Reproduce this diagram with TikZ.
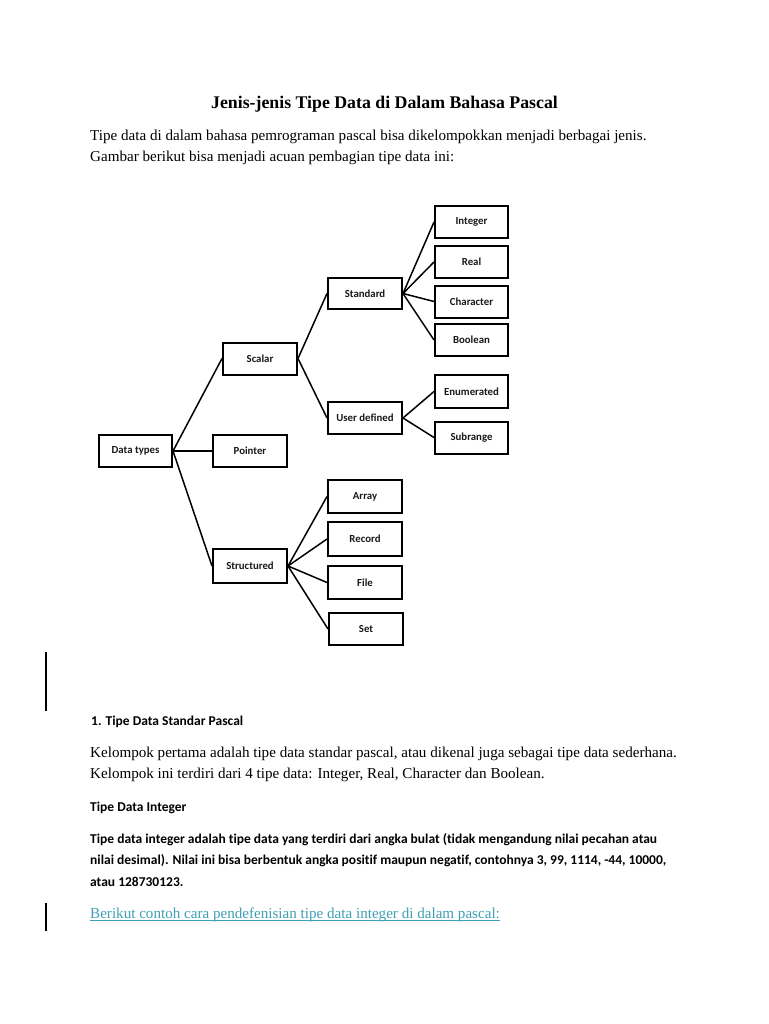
\documentclass[tikz,border=0pt]{standalone}
\usepackage{fontspec}
\setmainfont{Liberation Serif}
\newfontfamily\calfont[Ligatures={NoCommon}]{Carlito}
\definecolor{linkteal}{RGB}{62,160,180}
\definecolor{boxtext}{RGB}{25,25,25}
\begin{document}
\begin{tikzpicture}[x=1pt,y=-1pt,
  dbox/.style={draw=black,line width=2pt,minimum width=74pt,minimum height=32pt,inner sep=0pt,
    font=\calfont\bfseries\fontsize{10.8}{12}\selectfont,text=boxtext},
  conn/.style={draw=black,line width=1.5pt},
  bodytxt/.style={anchor=base west,inner sep=0pt,font=\fontsize{15.1}{18}\selectfont},
  caltxt/.style={anchor=base west,inner sep=0pt,font=\calfont\bfseries\fontsize{13.5}{16}\selectfont},
  cursorbar/.style={draw=black,line width=1.2pt}]
\useasboundingbox[fill=white] (0,0) rectangle (768,1024);

% title and intro
\node[anchor=base,inner sep=0pt,font=\bfseries\fontsize{17.8}{20}\selectfont] (title) at (384.5,109) {Jenis-jenis Tipe Data di Dalam Bahasa Pascal};
\node[bodytxt] (p1a) at (90,141) {Tipe data di dalam bahasa pemrograman pascal bisa dikelompokkan menjadi berbagai jenis.};
\node[bodytxt] (p1b) at (90,162) {Gambar berikut bisa menjadi acuan pembagian tipe data ini:};

% diagram boxes
\node[dbox,minimum width=73pt] (dt) at (135.5,451) {Data types};
\node[dbox] (scalar) at (260,358.5) {Scalar};
\node[dbox] (pointer) at (250,451) {Pointer};
\node[dbox,minimum height=34pt] (struct) at (250,566) {Structured};
\node[dbox,minimum height=31pt] (standard) at (365,293.5) {Standard};
\node[dbox] (userdef) at (365,418) {User defined};
\node[dbox,minimum width=73pt] (integer) at (471.5,222) {Integer};
\node[dbox,minimum width=73pt] (real) at (471.5,262) {Real};
\node[dbox,minimum width=73pt] (char) at (471.5,301.5) {Character};
\node[dbox,minimum width=73pt] (bool) at (471.5,340) {Boolean};
\node[dbox,minimum width=73pt,minimum height=33pt] (enum) at (471.5,391.5) {Enumerated};
\node[dbox,minimum width=73pt] (subr) at (471.5,437.5) {Subrange};
\node[dbox,minimum height=33pt] (array) at (365,496.5) {Array};
\node[dbox,minimum height=34pt] (record) at (365,539) {Record};
\node[dbox,minimum height=33pt] (file) at (365,582.5) {File};
\node[dbox] (set) at (366,629) {Set};

% connectors
\draw[conn] (dt.east) -- (scalar.west);
\draw[conn] (dt.east) -- (pointer.west);
\draw[conn] (dt.east) -- (struct.west);
\draw[conn] (scalar.east) -- (standard.west);
\draw[conn] (scalar.east) -- (userdef.west);
\draw[conn] (standard.east) -- (integer.west);
\draw[conn] (standard.east) -- (real.west);
\draw[conn] (standard.east) -- (char.west);
\draw[conn] (standard.east) -- (bool.west);
\draw[conn] (userdef.east) -- (enum.west);
\draw[conn] (userdef.east) -- (subr.west);
\draw[conn] (struct.east) -- (array.west);
\draw[conn] (struct.east) -- (record.west);
\draw[conn] (struct.east) -- (file.west);
\draw[conn] (struct.east) -- (set.west);

% cursor bars
\draw[cursorbar] (46,652) -- (46,711);
\draw[cursorbar] (46,903) -- (46,931);

% section text
\node[caltxt] (h1) at (91,725) {1. Tipe Data Standar Pascal};
\node[bodytxt] (p2a) at (90,757) {Kelompok pertama adalah tipe data standar pascal, atau dikenal juga sebagai tipe data sederhana.};
\node[bodytxt] (p2b) at (90,778) {Kelompok ini terdiri dari 4 tipe data: Integer, Real, Character dan Boolean.};
\node[caltxt] (h2) at (90,811) {Tipe Data Integer};
\node[caltxt] (p3a) at (90,843) {Tipe data integer adalah tipe data yang terdiri dari angka bulat (tidak mengandung nilai pecahan atau};
\node[caltxt] (p3b) at (90,864.5) {nilai desimal). Nilai ini bisa berbentuk angka positif maupun negatif, contohnya 3, 99, 1114, -44, 10000,};
\node[caltxt] (p3c) at (90,886) {atau 128730123.};
\node[bodytxt,text=linkteal] (lk) at (90,918) {Berikut contoh cara pendefenisian tipe data integer di dalam pascal:};
\draw[linkteal,line width=1pt] ([yshift=-2.2pt]lk.base west) -- ([yshift=-2.2pt]lk.base east);
\end{tikzpicture}
\end{document}
